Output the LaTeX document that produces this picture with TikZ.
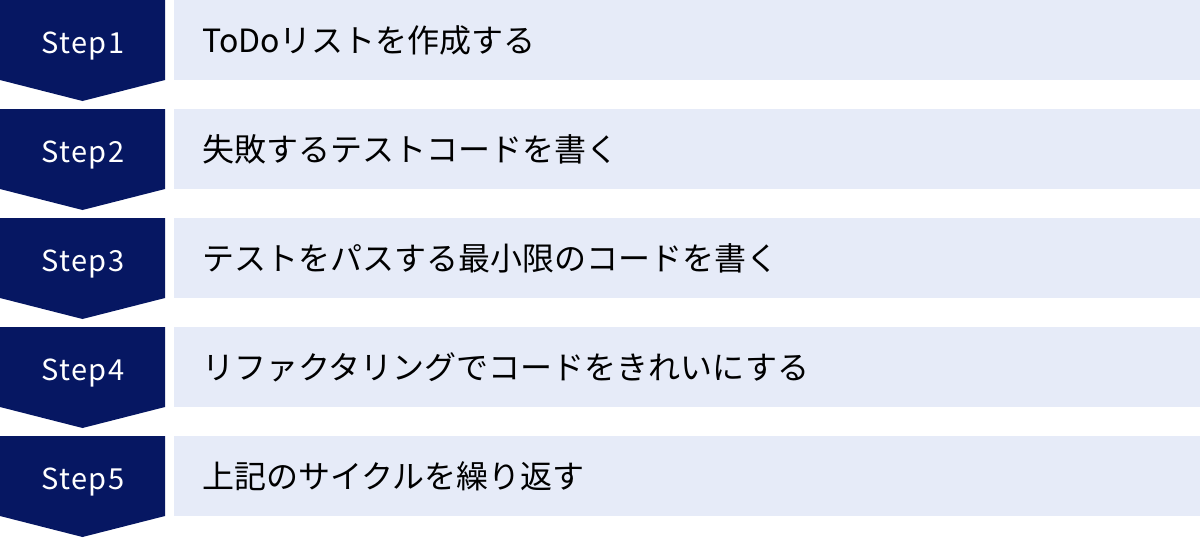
\documentclass[tikz,border=0pt]{standalone}
\usepackage{fontspec}
\setmainfont{Noto Sans}
\newfontfamily\jpfont{Noto Sans CJK JP}
\newfontfamily\lblfont[LetterSpace=5]{Noto Sans CJK JP}
\definecolor{navy}{RGB}{6,23,98}
\definecolor{pale}{RGB}{230,235,248}
\begin{document}
\begin{tikzpicture}[x=1pt,y=-1pt,
  stepshape/.style={fill=navy,draw=none},
  steplabel/.style={text=white,font=\lblfont\fontsize{29}{32}\selectfont,inner sep=0pt,anchor=base},
  taskbox/.style={fill=pale,draw=none,minimum width=1026pt,minimum height=80pt,inner sep=0pt,anchor=north west},
  tasktext/.style={text=black,font=\jpfont\fontsize{32}{36}\selectfont,inner sep=0pt,anchor=base west}]
\useasboundingbox (0,0) rectangle (1200,538);
\foreach \i/\t in {1/{ToDoリストを作成する},2/{失敗するテストコードを書く},3/{テストをパスする最小限のコードを書く},4/{リファクタリングでコードをきれいにする},5/{上記のサイクルを繰り返す}}{
  \pgfmathsetmacro{\top}{(\i-1)*109}
  \fill[stepshape] (0,\top) -- (165,\top) -- (165,\top+80) -- (82.5,\top+101) -- (0,\top+80) -- cycle;
  \node[steplabel] (s\i) at (83,\top+53) {Step\i};
  \node[taskbox] (b\i) at (174,\top) {};
  \node[tasktext] (t\i) at (202,\top+52) {\t};
}
\end{tikzpicture}
\end{document}
